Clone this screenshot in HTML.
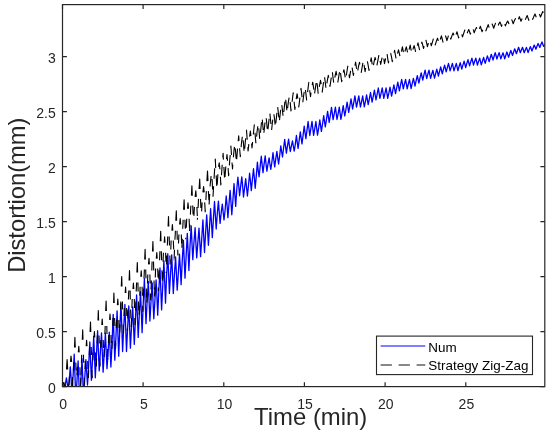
<!DOCTYPE html>
<html><head><meta charset="utf-8"><title>Distortion vs Time</title>
<style>html,body{margin:0;padding:0;background:#fff;overflow:hidden}svg{display:block}</style>
</head><body>
<svg width="550" height="435" viewBox="0 0 550 435">
<rect width="550" height="435" fill="#fff"/>
<defs><clipPath id="ax"><rect x="62.5" y="4.6" width="482.3" height="382.0"/></clipPath></defs>
<g clip-path="url(#ax)" fill="none" stroke-linejoin="round">
<path d="M62.5,386.6 L63.3,386.0 L64.1,387.4 L65.3,384.5 L66.4,377.8 L67.2,382.9 L68.0,390.8 L69.2,381.1 L70.3,366.9 L71.1,378.7 L71.9,394.6 L73.1,375.8 L74.2,354.2 L75.0,376.6 L75.8,399.5 L77.0,380.2 L78.1,360.8 L78.9,381.6 L79.7,402.3 L80.9,380.5 L82.0,358.7 L82.8,379.3 L83.6,399.0 L84.8,377.3 L85.9,359.7 L86.7,372.6 L87.5,385.0 L88.7,365.2 L89.8,342.0 L90.6,360.7 L91.4,380.3 L92.6,358.7 L93.7,336.4 L94.5,356.8 L95.3,377.8 L96.5,353.9 L97.6,330.7 L98.4,351.2 L99.2,370.9 L100.4,351.4 L101.5,332.8 L102.3,352.5 L103.1,372.1 L104.3,352.6 L105.4,333.1 L106.2,351.3 L107.0,368.7 L108.2,350.4 L109.3,332.2 L110.1,348.9 L110.9,367.0 L112.1,342.1 L113.2,314.3 L114.0,337.3 L114.8,360.2 L116.0,335.5 L117.1,310.8 L117.9,333.2 L118.7,356.2 L119.8,329.4 L121.0,303.6 L121.8,327.6 L122.6,351.5 L123.7,327.8 L124.9,304.5 L125.7,328.1 L126.5,351.5 L127.6,328.2 L128.8,305.9 L129.6,327.6 L130.4,348.2 L131.5,327.1 L132.7,306.9 L133.5,325.7 L134.3,344.4 L135.4,320.2 L136.6,295.0 L137.4,316.2 L138.2,337.4 L139.3,314.7 L140.5,291.6 L141.3,311.4 L142.1,332.7 L143.2,304.6 L144.4,278.6 L145.2,302.2 L146.0,323.7 L147.1,301.8 L148.3,281.5 L149.1,301.6 L149.9,321.0 L151.0,301.5 L152.2,282.9 L153.0,301.2 L153.8,318.8 L154.9,300.6 L156.1,279.8 L156.9,296.0 L157.7,315.2 L158.8,291.2 L160.0,267.9 L160.8,288.9 L161.6,309.9 L162.7,286.7 L163.9,260.8 L164.7,282.0 L165.5,303.2 L166.6,275.7 L167.8,253.7 L168.6,273.6 L169.4,293.5 L170.5,274.1 L171.7,254.9 L172.5,274.6 L173.3,293.5 L174.4,274.5 L175.6,257.0 L176.4,274.1 L177.2,290.2 L178.3,273.5 L179.5,254.2 L180.3,267.9 L181.1,284.6 L182.2,261.9 L183.4,240.4 L184.2,259.4 L185.0,278.2 L186.1,257.0 L187.3,233.4 L188.1,251.5 L188.9,270.5 L190.0,246.1 L191.2,225.8 L192.0,243.5 L192.8,259.6 L193.9,243.0 L195.1,227.7 L195.9,243.1 L196.7,257.9 L197.8,243.1 L199.0,228.1 L199.8,242.0 L200.6,256.7 L201.7,239.3 L202.9,219.9 L203.7,235.9 L204.5,252.5 L205.6,233.0 L206.7,214.8 L207.6,230.6 L208.4,245.3 L209.5,227.4 L210.6,208.7 L211.5,223.0 L212.3,237.6 L213.4,219.0 L214.5,201.5 L215.4,215.7 L216.2,229.0 L217.3,213.7 L218.4,201.1 L219.3,213.1 L220.1,223.4 L221.2,212.7 L222.3,204.1 L223.2,212.5 L224.0,219.9 L225.1,210.3 L226.2,196.0 L227.1,205.5 L227.9,217.6 L229.0,203.9 L230.1,190.3 L231.0,202.7 L231.8,214.8 L232.9,200.2 L234.0,183.6 L234.9,195.4 L235.7,206.4 L236.8,189.0 L237.9,177.1 L238.8,186.2 L239.6,195.8 L240.7,185.9 L241.8,176.8 L242.7,186.7 L243.5,197.0 L244.6,187.9 L245.7,178.6 L246.6,187.8 L247.4,196.0 L248.5,185.5 L249.6,173.2 L250.5,181.7 L251.3,190.7 L252.4,179.4 L253.5,168.7 L254.4,178.3 L255.2,188.3 L256.3,175.9 L257.4,162.1 L258.2,170.3 L259.1,176.8 L260.2,166.1 L261.3,156.2 L262.1,164.4 L263.0,172.7 L264.1,163.9 L265.2,155.9 L266.0,163.8 L266.9,171.1 L268.0,163.9 L269.1,157.9 L269.9,163.9 L270.8,169.3 L271.9,162.0 L273.0,152.7 L273.8,159.6 L274.7,166.8 L275.8,158.7 L276.9,151.3 L277.7,157.8 L278.6,164.0 L279.7,155.5 L280.8,145.8 L281.6,151.5 L282.5,157.0 L283.6,148.0 L284.7,139.4 L285.5,146.2 L286.4,153.2 L287.5,145.7 L288.6,139.1 L289.4,145.6 L290.3,151.5 L291.4,145.9 L292.5,141.0 L293.3,146.0 L294.2,151.2 L295.3,144.3 L296.4,135.5 L297.2,142.0 L298.1,148.4 L299.2,140.1 L300.3,131.8 L301.1,137.8 L302.0,143.9 L303.1,135.1 L304.2,126.2 L305.0,132.4 L305.9,138.7 L307.0,130.1 L308.1,121.5 L308.9,128.3 L309.8,135.5 L310.9,128.4 L312.0,121.4 L312.8,128.4 L313.6,135.4 L314.8,128.4 L315.9,121.5 L316.7,128.4 L317.5,135.2 L318.7,127.9 L319.8,119.9 L320.6,125.7 L321.4,131.4 L322.6,123.5 L323.7,115.6 L324.5,121.3 L325.3,126.9 L326.5,119.1 L327.6,111.4 L328.4,116.9 L329.2,122.5 L330.4,114.8 L331.5,107.3 L332.3,113.3 L333.1,119.6 L334.3,113.3 L335.4,107.1 L336.2,113.3 L337.0,119.5 L338.2,113.3 L339.3,107.2 L340.1,113.3 L340.9,119.3 L342.1,112.8 L343.2,105.7 L344.0,110.9 L344.8,116.0 L346.0,109.0 L347.1,102.1 L347.9,107.3 L348.7,112.4 L349.9,105.6 L351.0,98.8 L351.8,103.9 L352.6,109.0 L353.8,102.4 L354.9,95.9 L355.7,101.4 L356.5,107.1 L357.7,101.4 L358.8,95.9 L359.6,101.5 L360.4,107.0 L361.6,101.5 L362.7,96.0 L363.5,101.5 L364.3,106.9 L365.5,101.1 L366.6,94.9 L367.4,99.8 L368.2,104.7 L369.4,98.6 L370.5,92.5 L371.3,97.4 L372.1,102.2 L373.3,96.2 L374.4,90.2 L375.2,95.0 L376.0,99.8 L377.2,93.9 L378.3,88.0 L379.1,93.1 L379.9,98.3 L381.1,93.1 L382.2,87.9 L383.0,93.1 L383.8,98.3 L385.0,93.1 L386.1,88.0 L386.9,93.2 L387.7,98.3 L388.9,92.9 L390.0,87.1 L390.8,91.7 L391.6,96.2 L392.8,90.4 L393.9,84.8 L394.7,89.2 L395.5,93.6 L396.7,87.9 L397.8,82.2 L398.6,86.5 L399.4,90.8 L400.5,85.1 L401.7,79.5 L402.5,84.2 L403.3,88.9 L404.4,84.2 L405.6,79.5 L406.4,84.2 L407.2,88.8 L408.3,84.1 L409.5,79.5 L410.3,84.1 L411.1,88.7 L412.2,83.7 L413.4,78.4 L414.2,82.2 L415.0,86.1 L416.1,80.8 L417.3,75.6 L418.1,79.4 L418.9,83.1 L420.0,77.9 L421.2,72.8 L422.0,76.5 L422.8,80.2 L423.9,75.2 L425.1,70.2 L425.9,74.3 L426.7,78.5 L427.8,74.3 L429.0,70.2 L429.8,74.3 L430.6,78.4 L431.7,74.3 L432.9,70.3 L433.7,74.3 L434.5,78.2 L435.6,73.8 L436.8,69.2 L437.6,72.6 L438.4,76.1 L439.5,71.5 L440.7,67.0 L441.5,70.5 L442.3,73.9 L443.4,69.4 L444.6,65.1 L445.4,68.5 L446.2,71.9 L447.3,67.6 L448.5,63.3 L449.3,67.0 L450.1,70.8 L451.2,67.1 L452.4,63.4 L453.2,67.1 L454.0,70.8 L455.1,67.1 L456.3,63.4 L457.1,67.1 L457.9,70.7 L459.0,66.8 L460.2,62.7 L461.0,65.9 L461.8,69.2 L462.9,65.1 L464.1,61.1 L464.9,64.3 L465.7,67.5 L466.8,63.5 L468.0,59.6 L468.8,62.8 L469.6,65.9 L470.7,62.0 L471.9,58.1 L472.7,61.5 L473.5,65.0 L474.6,61.5 L475.8,58.1 L476.6,61.5 L477.4,65.0 L478.5,61.6 L479.7,58.2 L480.5,61.6 L481.3,64.9 L482.4,61.3 L483.6,57.4 L484.4,60.5 L485.2,63.4 L486.3,59.6 L487.4,55.9 L488.3,58.8 L489.1,61.7 L490.2,58.0 L491.3,54.3 L492.2,57.1 L493.0,60.0 L494.1,56.3 L495.2,52.7 L496.1,55.8 L496.9,59.0 L498.0,55.8 L499.1,52.7 L500.0,55.8 L500.8,58.9 L501.9,55.8 L503.0,52.8 L503.9,55.8 L504.7,58.8 L505.8,55.5 L506.9,52.0 L507.8,54.6 L508.6,57.2 L509.7,53.8 L510.8,50.4 L511.7,53.0 L512.5,55.5 L513.6,52.1 L514.7,48.8 L515.6,51.3 L516.4,53.7 L517.5,50.5 L518.6,47.3 L519.5,50.0 L520.3,52.7 L521.4,50.0 L522.5,47.3 L523.4,50.0 L524.2,52.7 L525.3,50.0 L526.4,47.4 L527.3,50.0 L528.1,52.6 L529.2,49.6 L530.3,46.6 L531.2,48.8 L532.0,51.0 L533.1,48.0 L534.2,45.0 L535.1,47.1 L535.9,49.2 L537.0,46.3 L538.1,43.5 L539.0,45.5 L539.8,47.4 L540.9,44.6 L542.0,41.9 L542.8,44.2 L543.7,46.4 L544.8,44.2 L544.8,44.2" stroke="#0000ff" stroke-width="1.3"/>
<path d="M62.5,386.6 L63.2,383.2 L64.0,382.5 L64.6,387.3 M66.5,369.5 L67.1,359.6 L67.7,369.5 M68.5,384.5 L68.8,389.6 M64.9,389.0 L65.3,384.5 M70.5,361.9 L71.0,356.0 L71.6,361.9 M72.3,376.9 L72.6,384.9 M69.0,384.9 L69.4,376.9 M74.5,347.4 L74.9,337.4 L75.3,347.4 M75.8,362.4 L76.1,370.4 M73.4,370.3 L73.8,362.4 L73.8,362.3 M72.7,386.3 L72.7,385.3 M78.3,352.3 L78.8,346.4 L79.2,352.4 M79.9,367.3 L80.1,375.3 M77.0,375.3 L77.4,367.3 M82.3,339.8 L82.7,329.8 L83.0,339.8 M83.5,354.7 L83.5,356.9 L83.7,362.7 M84.2,377.7 L84.4,384.5 M81.4,362.7 L81.6,358.2 L81.7,354.7 M80.5,385.5 L80.8,377.7 M86.2,346.2 L86.6,340.2 L87.0,346.2 M87.7,361.1 L87.9,369.1 M85.0,369.1 L85.3,361.1 M84.4,384.5 L84.4,384.1 M90.1,332.1 L90.5,322.1 L90.8,332.1 M91.2,347.1 L91.3,350.1 L91.5,355.0 M91.9,370.0 L92.1,378.0 M89.3,355.0 L89.4,352.0 L89.6,347.0 M88.4,378.0 L88.7,370.0 M94.0,337.5 L94.4,331.5 L94.8,337.5 M95.5,352.5 L95.7,360.5 M92.8,360.5 L93.1,352.5 M92.2,378.2 L92.3,375.5 M98.0,320.5 L98.3,310.5 L98.6,320.5 M99.0,335.5 L99.1,338.4 L99.3,343.5 M99.7,358.4 L100.0,366.4 M97.1,343.4 L97.2,341.8 L97.4,335.5 M96.3,366.4 L96.6,358.4 M101.8,325.0 L102.2,319.0 L102.6,325.0 M103.2,340.0 L103.5,348.0 M100.6,347.9 L100.9,339.9 M100.0,366.4 L100.1,362.9 M105.7,311.0 L106.1,301.0 L106.4,311.0 M106.8,326.0 L106.9,330.2 L107.0,334.0 M107.5,349.0 L107.7,357.0 M104.9,334.0 L105.0,331.4 L105.2,326.0 M104.0,357.0 L104.3,349.0 M109.6,319.9 L110.0,314.0 L110.4,319.9 M111.0,334.9 L111.3,342.9 M108.4,342.9 L108.7,334.9 M107.7,359.5 L107.8,357.9 M113.6,303.0 L113.9,293.0 L114.2,303.0 M114.6,318.0 L114.7,321.0 L114.9,326.0 M115.3,340.9 L115.5,348.9 M112.7,325.9 L112.8,324.8 L113.0,317.9 M111.9,348.9 L112.2,340.9 M117.4,305.1 L117.8,299.1 L118.2,305.1 M118.9,320.1 L119.1,328.1 M116.3,328.1 L116.6,320.1 M115.5,348.9 L115.7,343.1 M121.3,286.4 L121.7,276.5 L122.0,286.5 M122.4,301.4 L122.5,304.7 L122.7,309.4 M123.1,324.4 L123.3,332.4 M120.5,309.4 L120.6,308.1 L120.8,301.4 M119.7,332.4 L120.0,324.4 M125.2,293.0 L125.6,287.0 L125.9,293.0 M126.6,307.9 L126.8,315.9 M124.0,315.9 L124.3,307.9 M123.3,333.1 L123.4,330.9 M129.1,280.5 L129.5,270.5 L129.8,280.5 M130.1,290.5 L130.3,299.5 M130.6,309.5 L130.9,318.5 M128.4,299.5 L128.8,290.5 M127.7,318.5 L128.0,309.5 M127.2,330.7 L127.3,328.5 M133.0,289.0 L133.4,283.0 L133.8,289.0 M134.3,299.0 L134.5,308.0 M134.8,318.0 L135.0,325.0 M131.9,307.9 L132.2,298.9 M131.2,326.9 L131.5,317.9 M136.9,272.6 L137.3,262.6 L137.6,272.6 M137.9,282.6 L138.1,290.6 L138.1,291.6 M138.4,301.6 L138.7,310.6 M136.2,291.6 L136.6,282.6 M135.6,310.6 L135.9,301.6 M135.0,325.0 L135.2,320.6 M140.8,276.7 L141.2,270.7 L141.6,276.7 M142.1,286.7 L142.4,295.7 M142.7,305.7 L142.8,311.7 M139.8,295.7 L140.1,287.3 L140.1,286.7 M139.1,314.7 L139.4,305.7 M144.7,259.4 L145.1,249.4 L145.4,259.4 M145.7,269.4 L145.9,276.9 L146.0,278.4 M146.3,288.4 L146.5,297.4 M144.0,278.4 L144.4,269.4 M143.4,297.4 L143.7,288.4 M142.8,311.7 L143.0,307.4 M148.5,264.4 L149.0,258.4 L149.4,264.4 M149.9,274.4 L150.1,283.4 M150.4,293.4 L150.6,300.3 M147.5,283.4 L147.8,274.4 M146.8,302.4 L147.1,293.4 M152.5,251.5 L152.9,241.5 L153.2,251.5 M153.5,261.5 L153.7,269.2 L153.8,270.5 M154.0,280.5 L154.3,289.5 M151.8,270.5 L152.1,261.5 M151.0,289.5 L151.4,280.5 M150.6,300.3 L150.7,299.5 M156.3,258.6 L156.8,252.6 L157.2,258.6 M157.7,268.6 L158.0,277.6 M158.3,287.6 L158.4,291.1 M155.3,277.6 L155.6,268.6 M154.5,296.6 L154.9,287.6 M160.3,241.2 L160.7,231.2 L161.0,241.2 M161.3,251.2 L161.5,256.6 L161.6,260.2 M161.9,270.2 L162.2,279.2 M159.6,260.2 L159.9,251.2 M158.9,279.2 L159.2,270.2 M158.4,291.1 L158.5,289.2 M164.2,242.8 L164.6,236.8 L165.0,242.8 M165.6,252.7 L165.9,261.7 M166.2,271.7 L166.2,273.0 M163.1,261.7 L163.4,252.7 M162.4,280.7 L162.7,271.7 M168.1,226.5 L168.5,216.5 L168.8,226.5 M169.2,236.5 L169.3,240.7 L169.5,245.5 M169.8,255.5 L170.1,264.5 M167.3,245.5 L167.4,244.5 L167.7,236.5 M166.6,264.5 L166.9,255.5 M171.9,230.6 L172.4,224.6 L172.8,230.6 M173.3,240.6 L173.7,249.6 M174.0,259.6 L174.0,260.2 M170.8,249.6 L171.1,240.6 M170.1,264.5 L170.3,259.6 M175.8,220.8 L176.3,210.8 L176.6,220.8 M177.0,230.8 L177.1,233.4 L177.3,239.8 M177.7,249.8 L177.9,255.4 M174.9,239.8 L175.2,235.2 L175.4,230.8 M174.1,258.8 L174.5,249.8 M179.6,224.5 L180.2,218.5 L180.7,224.5 M181.3,234.5 L181.6,243.4 M178.5,243.4 L178.9,234.4 M177.9,255.4 L178.0,253.4 M183.6,209.8 L184.1,199.8 L184.5,209.8 M184.9,219.7 L185.3,228.7 M185.7,238.7 L185.7,239.2 M182.7,228.7 L183.0,223.8 L183.1,219.7 M181.9,247.7 L182.3,238.7 M187.5,208.8 L188.0,202.8 L188.5,208.8 M189.1,218.8 L189.5,227.8 M186.3,227.8 L186.7,218.8 M185.7,239.2 L185.8,237.8 M191.4,195.6 L191.9,185.7 L192.3,195.7 M192.7,205.6 L193.1,214.6 M190.4,214.6 L190.7,208.2 L190.9,205.6 M189.6,231.0 L189.9,224.6 M195.1,196.9 L195.8,190.9 L196.3,196.9 M196.9,206.9 L197.3,215.9 M193.9,215.9 L194.4,206.9 M199.1,189.0 L199.7,179.0 L200.1,189.0 M200.5,198.9 L200.9,207.9 M198.1,207.9 L198.5,199.2 L198.6,198.9 M197.4,219.8 L197.5,217.9 M202.9,192.4 L203.6,186.5 L204.2,192.4 M204.7,202.4 L205.2,211.4 M201.6,211.4 L202.1,202.4 M206.9,181.1 L207.5,171.1 L208.0,181.1 M208.4,191.1 L208.9,200.1 M205.9,200.1 L206.3,191.4 L206.4,191.1 M205.2,212.2 L205.3,210.0 M209.1,204.5 L209.7,194.0 M210.1,186.5 L210.2,184.5 L211.1,176.1 M212.0,179.0 L212.2,181.1 L212.6,189.5 M213.0,196.7 L213.6,186.2 M214.1,178.7 L214.1,177.7 L214.7,168.2 M215.2,160.8 L215.3,159.1 L215.7,168.0 M216.2,175.4 L216.7,185.9 M217.2,184.8 L217.9,174.3 M218.6,166.9 L219.2,162.8 L219.9,169.2 M220.4,176.7 L220.8,185.0 L221.0,182.7 M221.5,175.2 L221.9,168.8 L222.2,164.8 M222.8,157.3 L223.1,153.2 L223.4,159.6 M223.9,167.0 L223.9,167.3 L224.5,177.5 M225.0,177.0 L225.8,166.5 M226.5,159.1 L227.0,154.6 L227.5,160.7 M228.1,168.1 L228.6,175.8 L228.8,172.9 M229.4,165.4 L229.7,160.6 L230.2,155.0 M230.8,147.5 L230.9,146.0 L231.5,155.0 M232.0,162.5 L232.5,168.9 L232.8,164.8 M233.4,157.3 L233.6,154.6 L234.4,146.9 M235.2,148.2 L235.6,151.8 L236.1,158.7 M236.7,159.2 L237.5,149.1 L237.6,148.7 M238.2,141.3 L238.7,135.7 L239.0,140.7 M239.6,148.2 L240.3,156.7 L240.5,154.7 M241.1,147.3 L241.4,144.0 L242.3,136.8 M243.1,140.3 L243.4,142.8 L244.0,150.7 M244.7,148.6 L245.3,141.6 L245.7,138.2 M246.4,130.7 L246.5,130.0 L247.2,139.7 M247.8,147.2 L248.1,150.9 L248.8,144.1 M249.6,136.6 L250.4,131.1 L250.9,136.0 M251.6,143.5 L252.0,148.0 L252.6,142.0 M253.3,134.5 L254.3,124.7 L254.3,125.3 M255.0,132.8 L255.1,134.2 L255.9,143.3 M256.6,136.6 L257.0,132.3 L257.8,126.2 M258.7,128.4 L259.0,130.3 L259.7,138.9 M260.5,132.8 L260.9,128.3 L261.5,122.3 M262.3,119.6 L262.9,126.2 L263.2,130.0 M263.9,132.7 L264.8,124.4 L265.1,122.3 M266.2,118.3 L266.8,123.5 L267.2,128.7 M268.0,129.3 L268.7,122.6 L269.1,118.9 M269.9,113.6 L270.7,121.7 L270.9,124.0 M271.6,130.0 L272.6,120.8 L272.8,119.6 M273.9,114.2 L274.6,119.4 L275.1,124.6 M275.8,123.3 L276.5,116.9 L276.9,112.9 M277.7,107.1 L278.5,114.4 L278.8,117.5 M279.5,120.1 L280.4,112.0 L280.7,109.7 M281.8,105.2 L282.4,109.6 L283.0,115.7 M283.8,112.0 L284.3,107.2 L284.9,101.6 M285.7,99.8 L286.3,104.9 L286.8,110.2 M287.6,108.1 L288.2,103.2 L289.1,97.7 M290.1,102.1 L290.2,102.5 L291.0,110.9 L291.2,109.2 M292.1,101.8 L293.2,92.8 L293.4,94.2 M294.1,101.7 L294.9,109.4 L295.2,106.6 M296.2,99.2 L297.1,93.7 L297.8,98.6 M298.7,106.1 L298.8,107.0 L299.9,97.6 L299.9,97.6 M300.8,90.1 L301.0,88.4 L301.9,95.9 L302.0,97.1 M302.8,102.3 L303.8,94.3 L304.2,91.9 M305.4,90.0 L305.8,92.6 L306.6,100.0 L306.6,99.5 M307.6,92.1 L307.7,91.1 L308.8,82.3 L308.9,82.9 M309.7,90.3 L310.5,96.7 L311.0,92.7 M312.2,85.2 L312.7,82.2 L313.6,87.8 L313.8,89.6 M314.6,93.4 L315.5,87.3 L316.1,83.0 M317.1,83.3 L317.5,86.7 L318.2,93.7 M319.3,86.9 L319.4,86.2 L320.5,80.4 L321.2,84.2 M322.1,91.7 L322.2,92.1 L323.3,84.0 L323.6,82.1 M324.6,77.3 L325.3,82.6 L325.9,87.7 M326.9,83.3 L327.2,81.3 L328.3,75.3 L328.7,77.6 M329.8,85.0 L330.0,86.5 L331.1,78.7 L331.3,77.5 M332.4,72.2 L333.0,77.5 L333.7,82.6 M334.8,77.6 L335.0,76.6 L336.1,71.3 L336.8,75.3 M337.8,82.5 L338.9,75.7 L339.5,72.2 M340.6,73.0 L340.8,75.3 L341.7,81.6 L342.0,79.9 M343.3,72.5 L343.9,69.7 L344.7,74.1 L345.2,77.3 M346.3,75.5 L346.7,73.0 L347.8,66.0 L348.0,66.9 M349.0,74.4 L349.5,77.8 L350.6,70.8 L350.6,70.8 M352.1,67.7 L352.5,69.8 L353.4,75.5 L353.8,73.0 M355.0,65.6 L355.6,62.0 L356.4,67.7 L356.6,68.9 M357.8,70.5 L358.4,67.0 L359.5,62.3 L359.9,64.3 M361.1,71.8 L361.2,72.5 L362.3,66.3 L362.9,62.8 M364.1,64.9 L364.2,65.9 L365.1,71.7 L365.7,68.0 M367.4,61.4 L368.1,65.0 L369.0,70.4 L369.2,69.0 M370.5,61.7 L371.2,57.8 L372.0,63.1 L372.2,64.3 M373.5,65.1 L374.0,62.2 L375.1,57.5 L375.7,60.1 M376.9,65.4 L377.9,60.4 L378.9,55.1 M380.1,61.0 L380.7,64.5 L381.8,58.8 L382.1,57.7 M383.8,58.6 L384.5,63.7 L385.6,58.4 M387.1,54.2 L387.6,57.8 L388.4,62.9 L388.8,61.1 M390.6,53.9 L390.7,53.4 L391.5,56.9 L392.3,61.6 L392.7,60.1 M394.1,52.7 L394.6,50.3 L395.4,55.0 L396.0,58.3 M397.5,53.6 L398.5,49.8 L399.3,53.1 L399.9,56.2 M401.4,51.6 L402.4,46.8 L403.2,51.2 L403.4,52.2 M404.9,51.5 L405.2,50.5 L406.3,46.8 L407.1,50.2 L407.5,52.3 M409.1,49.7 L410.2,45.1 L411.0,49.5 L411.3,50.7 M412.9,49.5 L413.0,49.1 L414.1,45.6 L414.9,48.5 L415.6,51.8 M417.3,45.7 L418.0,42.8 L418.8,46.6 L419.6,50.1 M421.4,43.6 L421.9,42.1 L422.7,44.8 L423.5,48.5 L424.1,46.2 M425.9,39.9 L426.6,43.0 L427.4,46.6 L428.4,43.0 M430.7,42.8 L431.3,45.8 L432.5,41.8 L433.4,38.6 M435.1,44.5 L435.2,45.0 L436.4,41.2 L437.5,38.2 L438.3,40.6 L438.4,40.9 M440.3,39.5 L441.4,35.8 L442.2,39.0 L443.0,42.2 L443.0,42.1 M445.4,35.5 L446.1,37.5 L446.9,40.6 L448.1,36.8 L448.4,35.7 M450.4,37.6 L450.8,39.1 L452.0,35.6 L453.1,33.0 L453.9,35.3 M456.1,34.5 L457.0,31.7 L457.8,34.8 L458.6,37.9 L459.0,36.7 M461.8,34.4 L462.5,36.9 L463.7,33.4 L464.8,30.0 L465.0,30.6 M467.2,33.3 L467.6,32.1 L468.7,29.5 L469.5,31.5 L470.3,34.1 L470.8,32.7 M473.2,29.4 L473.4,30.2 L474.2,32.8 L475.3,29.7 L476.5,27.5 L476.9,28.6 M479.4,28.9 L480.4,26.3 L481.2,29.0 L482.0,31.7 L482.8,29.8 M485.7,30.2 L485.9,30.8 L487.0,27.7 L488.2,24.6 L489.0,27.1 L489.2,27.6 M491.9,24.4 L492.1,24.0 L492.9,25.8 L493.7,28.2 L494.8,25.1 L495.6,22.9 M498.2,25.5 L498.7,24.1 L499.9,22.0 L500.7,23.8 L501.5,26.4 L502.2,24.6 M504.8,24.1 L505.4,25.9 L506.5,23.1 L507.7,21.0 L508.5,22.7 L509.0,24.1 M511.6,19.4 L512.4,21.4 L513.2,23.7 L514.3,20.8 L515.5,18.6 L515.6,18.8 M518.4,19.2 L519.4,16.7 L520.2,19.0 L521.0,21.2 L522.1,18.6 L522.2,18.4 M525.3,19.8 L526.0,18.1 L527.2,15.5 L528.0,17.9 L528.8,20.3 L529.1,19.5 M532.4,18.5 L532.7,19.4 L533.8,16.6 L535.0,13.9 L535.8,16.0 L536.2,17.2 M539.3,14.1 L539.7,14.8 L540.5,17.0 L541.6,14.2 L542.8,11.5 L543.2,12.8" stroke="#000" stroke-width="1.12" fill="none"/>
</g>
<g stroke="#262626" stroke-width="1.2" fill="none">
<rect x="62.5" y="4.6" width="482.3" height="382.0"/>
<path d="M62.5,386.6v-4.4 M62.5,4.6v4.4 M143.1,386.6v-4.4 M143.1,4.6v4.4 M223.8,386.6v-4.4 M223.8,4.6v4.4 M304.4,386.6v-4.4 M304.4,4.6v4.4 M385.1,386.6v-4.4 M385.1,4.6v4.4 M465.8,386.6v-4.4 M465.8,4.6v4.4 M62.5,386.6h4.4 M544.8,386.6h-4.4 M62.5,331.6h4.4 M544.8,331.6h-4.4 M62.5,276.6h4.4 M544.8,276.6h-4.4 M62.5,221.6h4.4 M544.8,221.6h-4.4 M62.5,166.6h4.4 M544.8,166.6h-4.4 M62.5,111.6h4.4 M544.8,111.6h-4.4 M62.5,56.6h4.4 M544.8,56.6h-4.4"/>
</g>
<g font-family="'Liberation Sans', Arial, Helvetica, sans-serif" fill="#262626">
<g font-size="14px" text-anchor="middle">
<text x="63.2" y="408.7">0</text>
<text x="143.8" y="408.7">5</text>
<text x="224.5" y="408.7">10</text>
<text x="305.1" y="408.7">15</text>
<text x="385.8" y="408.7">20</text>
<text x="466.4" y="408.7">25</text>
</g>
<g font-size="14px" text-anchor="end">
<text x="55.8" y="392.6">0</text>
<text x="55.8" y="337.6">0.5</text>
<text x="55.8" y="282.6">1</text>
<text x="55.8" y="227.6">1.5</text>
<text x="55.8" y="172.6">2</text>
<text x="55.8" y="117.6">2.5</text>
<text x="55.8" y="62.6">3</text>
</g>
<text x="310.7" y="425.3" font-size="23.9px" text-anchor="middle">Time (min)</text>
<text transform="translate(25.1,195.2) rotate(-90)" font-size="23.7px" text-anchor="middle">Distortion(mm)</text>
</g>
<rect x="376.5" y="336.1" width="156" height="38.5" fill="#fff" stroke="#262626" stroke-width="1.1"/>
<path d="M380.6,346H425.3" stroke="#0000ff" stroke-width="1.2"/>
<path d="M380.6,364.9H425.3" stroke="#111" stroke-width="1.05" stroke-dasharray="11.3 6.7"/>
<g font-family="'Liberation Sans', Arial, Helvetica, sans-serif" fill="#000" font-size="13.45px">
<text x="428.3" y="351.7">Num</text>
<text x="428.3" y="370">Strategy Zig-Zag</text>
</g>
</svg>
</body></html>
